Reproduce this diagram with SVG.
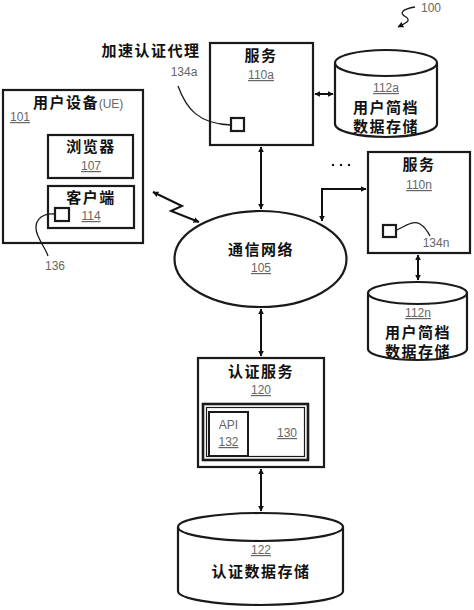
<svg xmlns="http://www.w3.org/2000/svg" width="474" height="610" viewBox="0 0 474 610">
<defs>
<marker id="ah" viewBox="0 0 10 10" refX="9" refY="5" markerWidth="6" markerHeight="6" orient="auto-start-reverse" markerUnits="userSpaceOnUse">
<path d="M0,0 L10,5 L0,10 z" fill="#111"/>
</marker>
<style>
.box{fill:#fff;stroke:#1a1a1a;stroke-width:2.2}
.thin{fill:none;stroke:#1a1a1a;stroke-width:1.3}
.zh{font-family:"Noto Sans CJK SC","Noto Sans CJK JP",sans-serif;font-size:15px;font-weight:bold;fill:#111;letter-spacing:1.5px;text-anchor:middle}
.num{font-family:"Liberation Sans",Arial,sans-serif;font-size:12px;fill:#666;text-decoration:underline;text-anchor:middle}
.lbl{font-family:"Liberation Sans",Arial,sans-serif;font-size:12px;fill:#666;text-anchor:middle}
.con{fill:none;stroke:#111;stroke-width:2;marker-start:url(#ah);marker-end:url(#ah)}
</style>
</defs>
<rect width="474" height="610" fill="#fff"/>

<g id="ref100">
<text class="lbl" x="431" y="12">100</text>
<path d="M415,7 C403,9 398,13 406,17 C412,21 404,24 398,27" class="thin" marker-end="url(#ah)"/>
</g>

<g id="service110a">
<rect class="box" x="210" y="43" width="103" height="102"/>
<text class="zh" x="261" y="61">服务</text>
<text class="num" x="261" y="79">110a</text>
<rect class="box" x="231" y="118" width="13" height="13"/>
</g>

<g id="proxy-label">
<text class="zh" x="151" y="56">加速认证代理</text>
<text class="lbl" x="184" y="76">134a</text>
<path d="M178,86 C186,108 198,124 231,125" class="thin"/>
</g>

<g id="store112a">
<path class="box" d="M335,63 L335,124 A51,13 0 0 0 437,124 L437,63"/>
<ellipse class="box" cx="386" cy="63" rx="51" ry="13"/>
<text class="num" x="386" y="92">112a</text>
<text class="zh" x="386" y="113">用户简档</text>
<text class="zh" x="386" y="132">数据存储</text>
</g>

<g id="ue101">
<rect class="box" x="3" y="90" width="140" height="153"/>
<text class="zh" x="66" y="108">用户设备</text>
<text class="lbl" x="111" y="108">(UE)</text>
<text class="num" x="20" y="121">101</text>
</g>

<g id="browser107">
<rect class="box" x="48" y="135" width="85" height="43"/>
<text class="zh" x="91" y="152">浏览器</text>
<text class="num" x="91" y="170">107</text>
</g>

<g id="client114">
<rect class="box" x="48" y="186" width="86" height="42"/>
<text class="zh" x="91" y="203">客户端</text>
<text class="num" x="91" y="220">114</text>
<rect class="box" x="55" y="208" width="14" height="13"/>
</g>

<g id="label136">
<path d="M55,214 C40,213 32,222 38,236 C42,245 46,250 48,256" class="thin"/>
<text class="lbl" x="55" y="270">136</text>
</g>

<g id="network105">
<ellipse class="box" cx="260.5" cy="259" rx="86" ry="48"/>
<text class="zh" x="261" y="255">通信网络</text>
<text class="num" x="261" y="272">105</text>
</g>

<g id="dots">
<circle cx="333" cy="165" r="1.2" fill="#111"/>
<circle cx="341" cy="165" r="1.2" fill="#111"/>
<circle cx="349" cy="165" r="1.2" fill="#111"/>
</g>

<g id="service110n">
<rect class="box" x="368" y="152" width="102" height="101"/>
<text class="zh" x="419" y="170">服务</text>
<text class="num" x="419" y="189">110n</text>
<rect class="box" x="383" y="225" width="13" height="12"/>
<path d="M397,230 C405,226 413,220 420,224 C425,227 428,232 430,236" class="thin"/>
<text class="lbl" x="436" y="247">134n</text>
</g>

<g id="store112n">
<path class="box" d="M368,293 L368,349 A49.5,11 0 0 0 467,349 L467,293"/>
<ellipse class="box" cx="417.5" cy="293" rx="49.5" ry="11"/>
<text class="num" x="418" y="317">112n</text>
<text class="zh" x="418" y="338">用户简档</text>
<text class="zh" x="418" y="357">数据存储</text>
</g>

<g id="auth120">
<rect class="box" x="198" y="358" width="126" height="109"/>
<text class="zh" x="261" y="377">认证服务</text>
<text class="num" x="261" y="394">120</text>
</g>

<g id="comp130">
<rect x="203" y="404" width="105" height="56" fill="#fff" stroke="#1a1a1a" stroke-width="2.6"/>
<rect x="206.5" y="407.5" width="98" height="49" fill="none" stroke="#1a1a1a" stroke-width="1.2"/>
<text class="num" x="287" y="437">130</text>
</g>

<g id="api132">
<rect x="209" y="412" width="39" height="44" fill="#fff" stroke="#1a1a1a" stroke-width="2"/>
<text class="lbl" x="228.5" y="429">API</text>
<text class="num" x="228.5" y="446">132</text>
</g>

<g id="store122">
<path class="box" d="M178,527 L178,591 A82.5,14 0 0 0 343,591 L343,527"/>
<ellipse class="box" cx="260.5" cy="527" rx="82.5" ry="14"/>
<text class="num" x="261" y="554">122</text>
<text class="zh" x="261" y="577">认证数据存储</text>
</g>

<g id="connectors">
<path class="con" d="M315,94 L333,94"/>
<path class="con" d="M261,147 L261,209"/>
<path class="con" d="M261,309 L261,356"/>
<path class="con" d="M261,469 L261,511"/>
<path class="con" d="M418,255 L418,280"/>
<path class="con" d="M322,221 L322,189 L366,189"/>
<path class="con" d="M153,192 L182,206 L171,211 L199,222"/>
</g>
</svg>
